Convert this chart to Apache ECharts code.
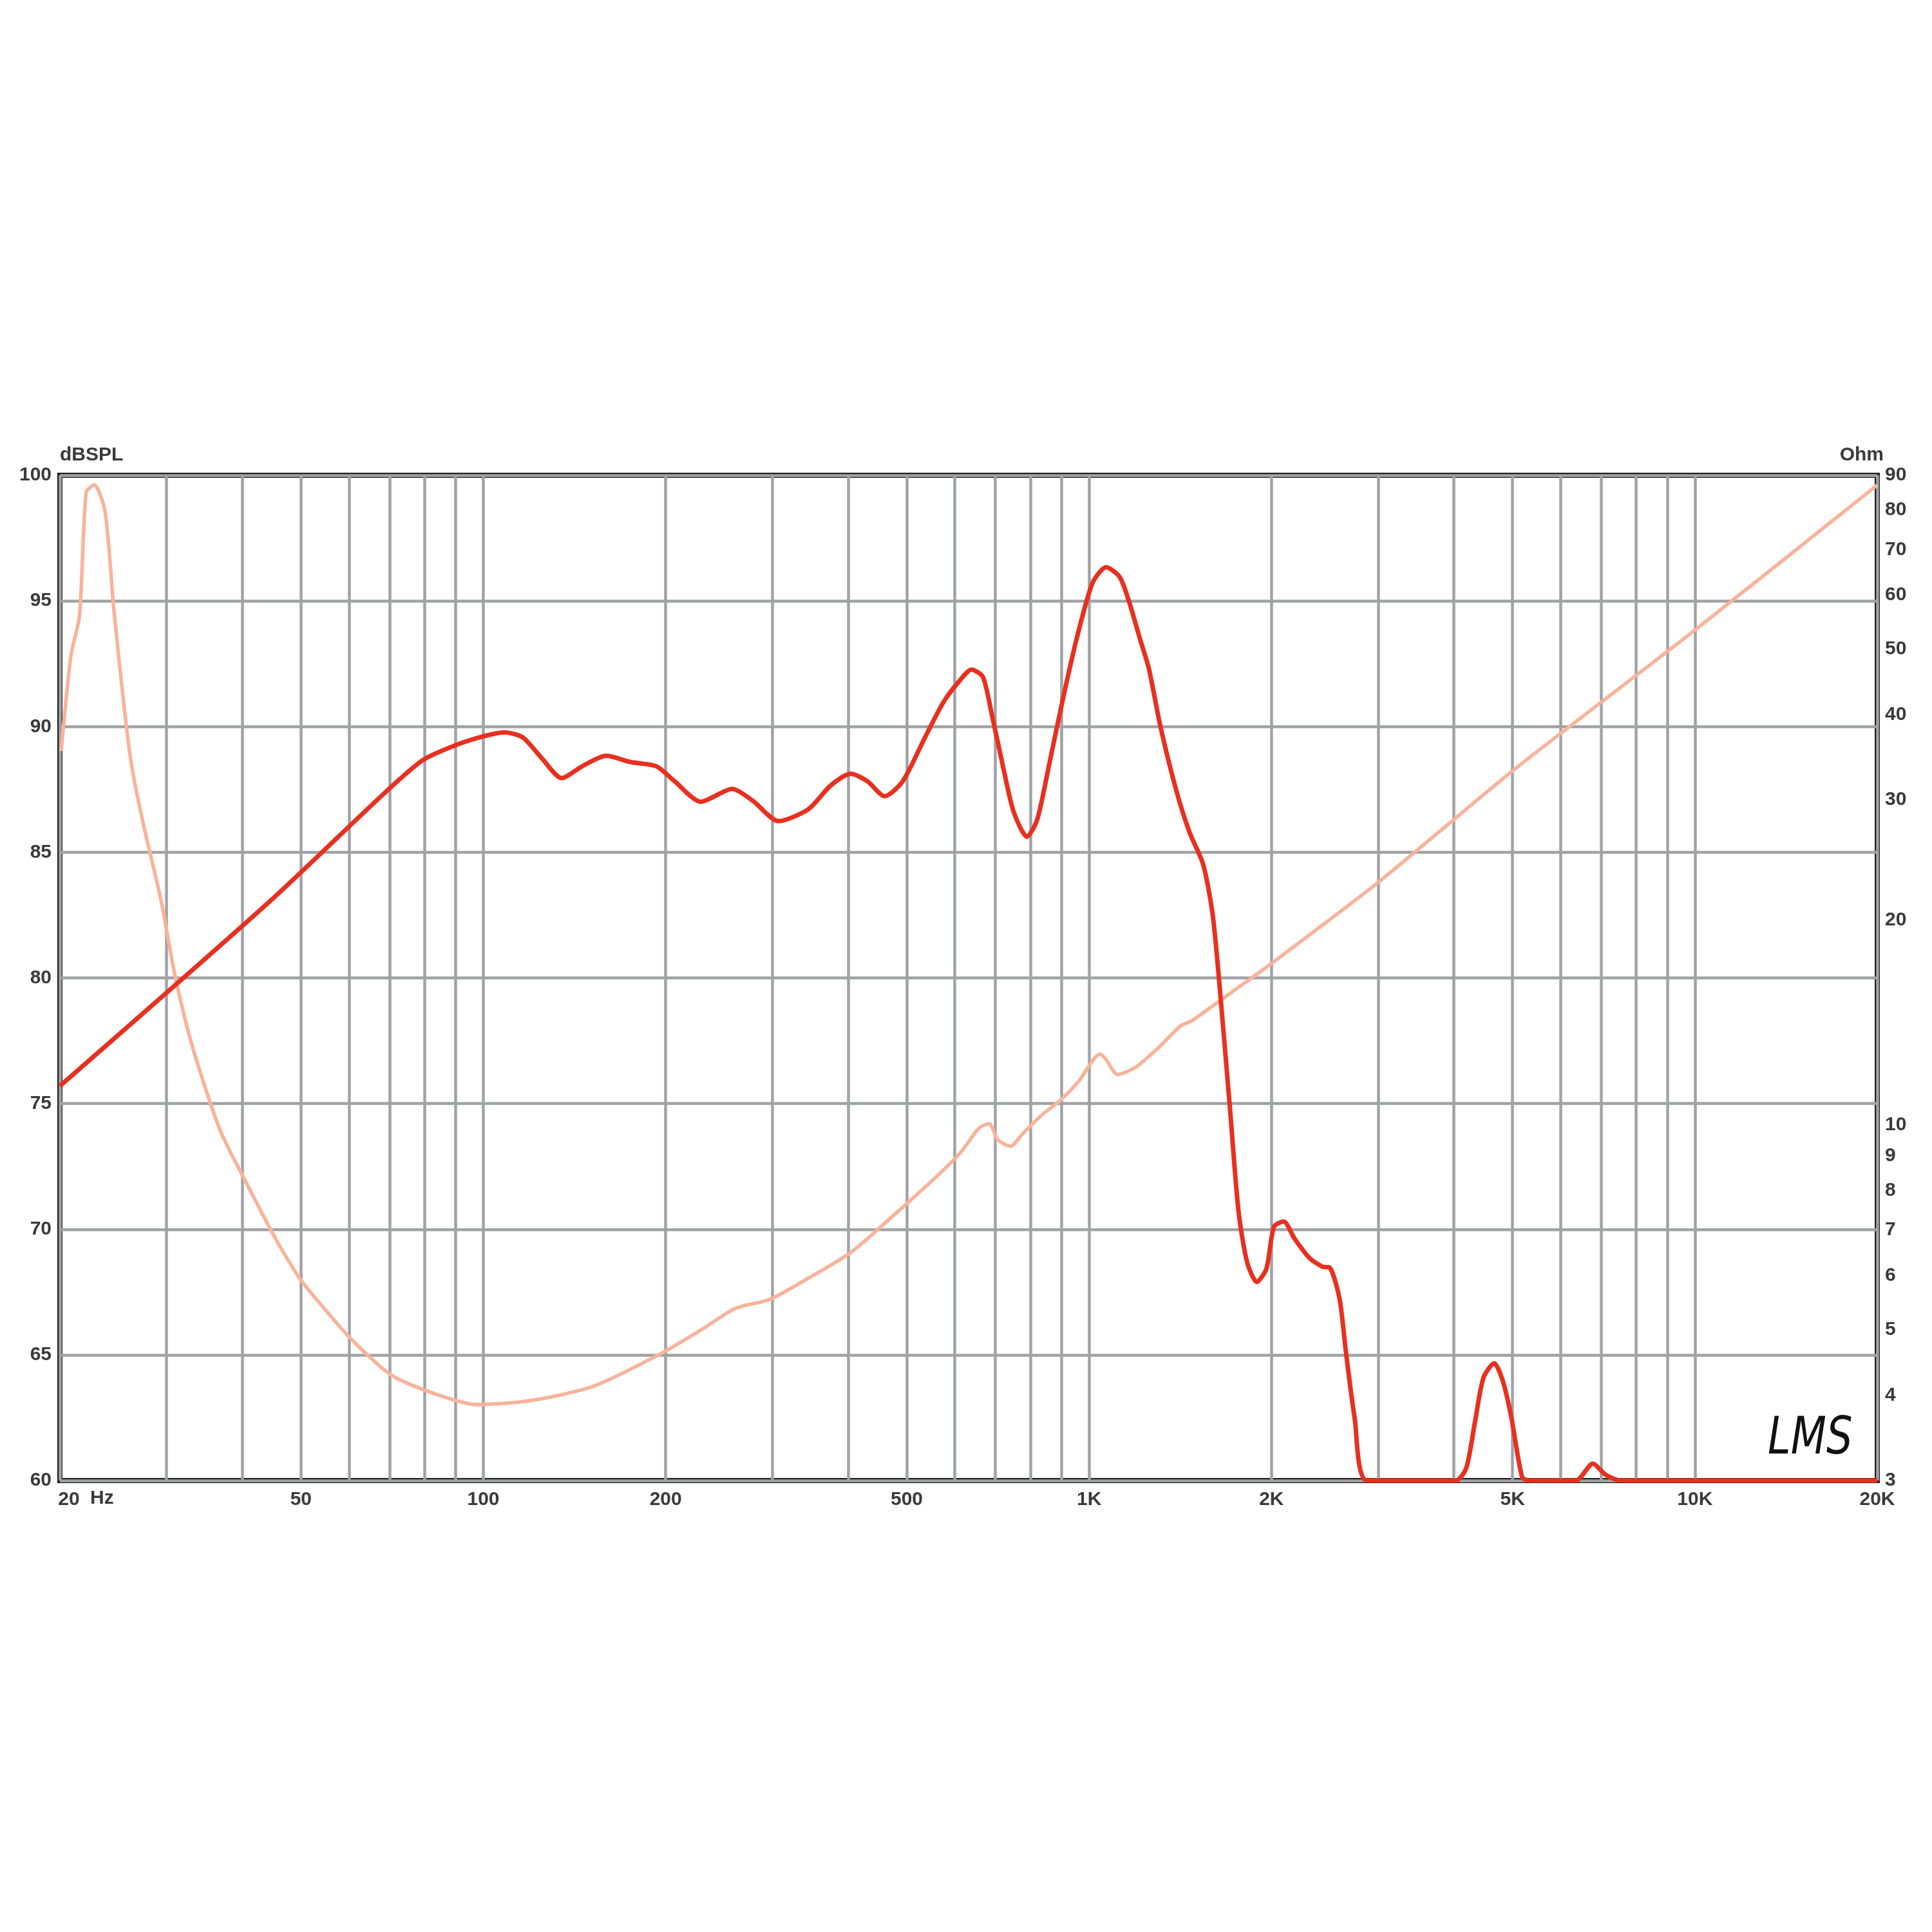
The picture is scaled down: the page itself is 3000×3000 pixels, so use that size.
<!DOCTYPE html>
<html><head><meta charset="utf-8">
<script src="https://cdn.jsdelivr.net/npm/echarts@6/dist/echarts.min.js"></script>
<style>html,body{margin:0;padding:0;background:#fff}#c{width:3000px;height:3000px}</style>
</head><body><div id="c"></div>
<script>
// Frequency response (dB SPL)
const splFreq = [20, 44.2, 69.0, 79.5, 89.8, 100, 108.3, 116.2, 124.7, 134.8, 145.6, 159.6, 174.9, 193, 207, 228.6, 257.6, 278.4, 307.2, 343.9, 374.2, 404.3, 430.9, 459.7, 492.3, 536.7, 574.5, 610.4, 639.8, 668, 691.3, 718.5, 750.1, 789.7, 821, 860.6, 905.8, 953.8, 1012.9, 1066.6, 1122.8, 1162, 1213, 1255, 1311, 1392, 1465, 1543, 1601, 1654, 1709, 1765, 1824, 1892, 1962, 2019, 2095, 2183, 2310, 2427, 2497, 2591, 2655, 2742, 2879, 4026, 4192, 4331, 4475, 4662, 4815, 4975, 5183, 5311, 6358, 6783, 7122, 7545, 20000];
const splDb = [75.7, 83.0, 87.4, 88.67, 89.25, 89.61, 89.77, 89.57, 88.76, 87.95, 88.42, 88.84, 88.59, 88.42, 87.82, 87.01, 87.52, 87.05, 86.24, 86.71, 87.65, 88.12, 87.82, 87.23, 87.82, 89.6, 90.96, 91.81, 92.27, 91.97, 90.45, 88.58, 86.63, 85.62, 86.3, 88.58, 91.13, 93.5, 95.71, 96.34, 95.96, 95.03, 93.5, 92.31, 90.02, 87.48, 85.79, 84.51, 82.44, 78.8, 74.74, 70.69, 68.67, 67.9, 68.43, 70.1, 70.31, 69.63, 68.86, 68.51, 68.47, 67.23, 65.09, 62.54, 60, 60, 60.49, 62.28, 64.08, 64.67, 63.99, 62.54, 60.15, 60, 60, 60.67, 60.23, 60, 60];

// Impedance (Ohm)
const impFreq = [20.1, 20.85, 21.55, 22.1, 22.8, 23.75, 24.55, 25.57, 26.3, 27.5, 29.4, 30.96, 33.2, 36.8, 40.3, 45, 49.8, 55.2, 61.1, 70.4, 82.8, 97.4, 119.3, 152.3, 198.2, 228.5, 260.6, 297.4, 342.8, 403.2, 482.3, 559, 614, 659, 684, 707, 742, 777, 834, 895, 959, 1043, 1064, 1115, 1194, 1305, 1416, 1475, 1537, 1667, 2000, 3000, 5000, 10000, 20000];
const impOhm = [35.4, 48.8, 56, 85, 87.1, 79.5, 57.2, 40.6, 33.5, 27.5, 21.3, 16.6, 12.9, 9.8, 8.33, 6.9, 5.94, 5.31, 4.8, 4.29, 4.03, 3.88, 3.93, 4.13, 4.63, 4.99, 5.37, 5.54, 5.94, 6.48, 7.44, 8.38, 9.11, 9.9, 10.03, 9.5, 9.3, 9.7, 10.32, 10.85, 11.55, 12.7, 12.5, 11.85, 12.15, 13.0, 13.97, 14.2, 14.57, 15.35, 17.26, 22.7, 33.1, 53.3, 87.1];

// Axis ticks
const xGridValues = [20, 30, 40, 50, 60, 70, 80, 90, 100, 200, 300, 400, 500, 600, 700, 800, 900, 1000, 2000, 3000, 4000, 5000, 6000, 7000, 8000, 9000, 10000, 20000];
const xLabelValues = [20, 50, 100, 200, 500, 1000, 2000, 5000, 10000, 20000];
const xLabelText = ['20', '50', '100', '200', '500', '1K', '2K', '5K', '10K', '20K'];
const ohmLabelValues = [3, 4, 5, 6, 7, 8, 9, 10, 20, 30, 40, 50, 60, 70, 80, 90];

const labelFont = {color: '#3a3a3a', fontSize: 30, fontWeight: 'bold', fontFamily: 'Liberation Sans'};
const nameFont = {color: '#3a3a3a', fontSize: 30, fontWeight: 'bold', fontFamily: 'Liberation Sans'};
const chart = echarts.init(document.getElementById('c'), null, {renderer: 'canvas'});
const gridColor = '#a0a2a6';

chart.setOption({
  backgroundColor: '#ffffff',
  animation: false,
  grid: {left: 93, top: 738, width: 2822, height: 1561, show: true, borderColor: '#222222', borderWidth: 8, backgroundColor: 'transparent'},
  xAxis: {
    type: 'log', logBase: 10, min: 20, max: 20000,
    axisLine: {show: false},
    axisTick: {show: false, customValues: xGridValues},
    splitLine: {show: true, lineStyle: {color: gridColor, width: 4.5}},
    axisLabel: Object.assign({}, labelFont, {
      customValues: xLabelValues, margin: 15,
      formatter: function (v) {
        const i = xLabelValues.findIndex(function (x) { return Math.abs(x - v) / x < 1e-6; });
        const t = i >= 0 ? xLabelText[i] : '';
        return v < 21 ? '{f|' + t + '}' : t;
      },
      rich: {f: Object.assign({}, labelFont, {padding: [0, 0, 0, 28]})}
    })
  },
  yAxis: [
    {
      type: 'value', min: 60, max: 100, interval: 5, position: 'left',
      name: 'dBSPL', nameLocation: 'end', nameGap: 16,
      nameTextStyle: Object.assign({}, nameFont, {align: 'left', verticalAlign: 'bottom'}),
      axisLine: {show: false}, axisTick: {show: false},
      splitLine: {show: true, lineStyle: {color: gridColor, width: 4.5}},
      axisLabel: Object.assign({}, labelFont, {margin: 13})
    },
    {
      type: 'log', logBase: 10, min: 3, max: 90, position: 'right',
      name: 'Ohm', nameLocation: 'end', nameGap: 16,
      nameTextStyle: Object.assign({}, nameFont, {align: 'right', verticalAlign: 'bottom', padding: [0, -10, 0, 0]}),
      axisLine: {show: false},
      axisTick: {show: false, customValues: ohmLabelValues},
      splitLine: {show: false},
      axisLabel: Object.assign({}, labelFont, {customValues: ohmLabelValues, margin: 12})
    }
  ],
  series: [
    {
      name: 'Impedance', type: 'line', xAxisIndex: 0, yAxisIndex: 1,
      data: impFreq.map(function (f, i) { return [f, impOhm[i]]; }),
      showSymbol: false, smooth: 0.25,
      lineStyle: {color: '#f8b39a', width: 5.5}, z: 3
    },
    {
      name: 'SPL', type: 'line', xAxisIndex: 0, yAxisIndex: 0,
      data: splFreq.map(function (f, i) { return [f, splDb[i]]; }),
      showSymbol: false, smooth: 0.25,
      lineStyle: {color: '#e8301f', width: 7}, z: 4
    }
  ],
  graphic: [
    {type: 'text', left: 140, top: 2312, style: {text: 'Hz', fill: '#3a3a3a', font: 'bold 30px "Liberation Sans"'}},
    {type: 'text', x: 2745, y: 2196, scaleX: 0.8, style: {text: 'LMS', fill: '#111111', font: 'italic 80px "DejaVu Sans"'}}
  ]
});
</script>
</body></html>
